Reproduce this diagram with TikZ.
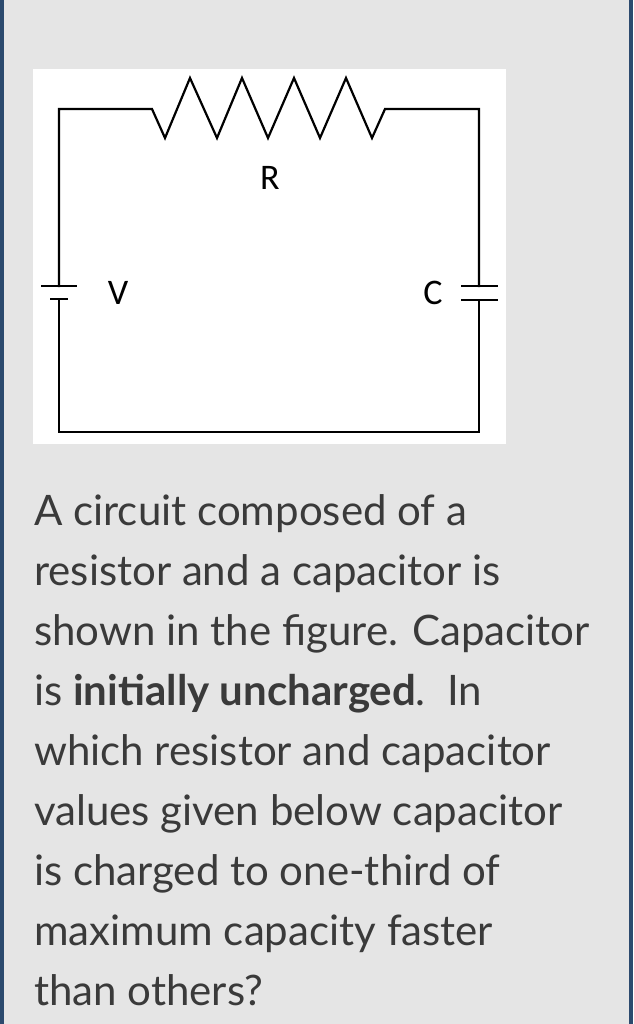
\documentclass[tikz,border=0pt]{standalone}
\usepackage{fontspec}
\setmainfont{Lato}
\setsansfont{Carlito}
\definecolor{bg}{HTML}{E5E5E5}
\definecolor{edge}{HTML}{2C4A6E}
\definecolor{txt}{HTML}{3A3A3A}
\begin{document}
\begin{tikzpicture}[x=1pt,y=-1pt,
  wire/.style={line width=2.2pt,line cap=rect},
  lbl/.style={font=\sffamily\fontsize{36}{40}\selectfont,text=black,inner sep=0},
  para/.style={anchor=base west,inner sep=0,font=\fontsize{42}{42}\selectfont,text=txt}]
\fill[bg] (0,0) rectangle (633,1024);
\fill[edge] (0,0) rectangle (4,1024);
\fill[edge] (629,0) rectangle (633,1024);
\useasboundingbox (0,0) rectangle (633,1024);
\fill[white] (33,69) rectangle (506,444);
\coordinate (tl) at (59,109);
\coordinate (tr) at (479,109);
\coordinate (bl) at (59,432);
\coordinate (br) at (479,432);
\coordinate (r1) at (152,109);
\coordinate (r2) at (385,109);
\coordinate (va) at (59,286);
\coordinate (vb) at (59,299);
\coordinate (ca) at (479,286);
\coordinate (cb) at (479,300);
\draw[wire,line join=miter] (va) -- (tl) -- (r1) -- (165,138) -- (190,78) -- (217,138) -- (242,78) -- (268,138) -- (294,78) -- (320,138) -- (346,78) -- (372,138) -- (r2) -- (tr) -- (ca);
\draw[wire] (cb) -- (br) -- (bl) -- (vb);
\draw[wire,line cap=butt] (41,286) -- (77,286);
\draw[wire,line cap=butt] (50,299) -- (68,299);
\draw[wire,line cap=butt] (461,286) -- (498,286);
\draw[wire,line cap=butt] (461,300) -- (498,300);
\node[lbl] (R) at (270,178) {R};
\node[lbl] (V) at (118,293) {V};
\node[lbl] (C) at (433,293) {C};
\node[para] (l1) at (34,525) {A circuit composed of a};
\node[para] (l2) at (34,585) {resistor and a capacitor is};
\node[para] (l3) at (34,645) {shown in the figure. Capacitor};
\node[para] (l4) at (34,705) {is \textbf{initially uncharged}.\ \ In};
\node[para] (l5) at (34,765) {which resistor and capacitor};
\node[para] (l6) at (34,825) {values given below capacitor};
\node[para] (l7) at (34,885) {is charged to one-third of};
\node[para] (l8) at (34,945) {maximum capacity faster};
\node[para] (l9) at (34,1005) {than others?};
\end{tikzpicture}
\end{document}
